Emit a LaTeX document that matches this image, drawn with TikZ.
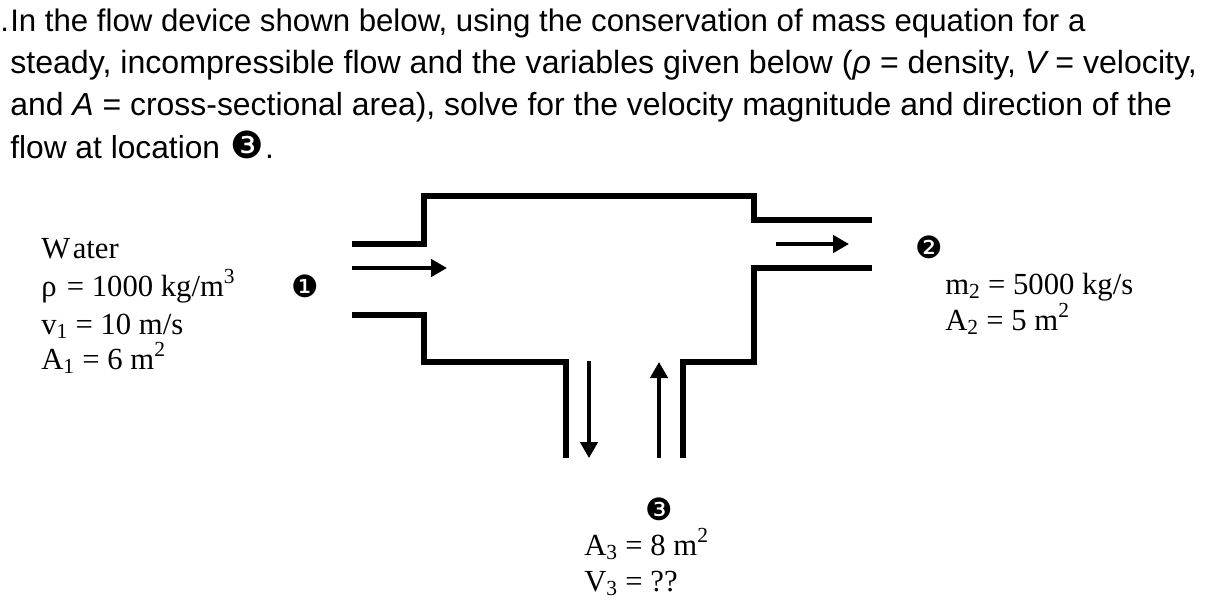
\documentclass[tikz,border=0pt]{standalone}
\usepackage{fontspec}
\setmainfont{Liberation Serif}
\newfontfamily\headfont{Liberation Sans}
\newfontfamily\dingfont{DejaVu Sans}
\usepackage{xcolor}
\definecolor{device-main}{HTML}{000000}
\usetikzlibrary{arrows.meta}
\newcommand{\headsize}[1]{\fontsize{#1}{28}\selectfont}
\tikzset{
    x=0.75pt, y=-0.75pt,
    headline/.style={anchor=base west, inner sep=0pt, font=\headfont\headsize{#1}},
    dataline/.style={anchor=base west, inner sep=0pt, font=\fontsize{23}{28}\selectfont},
    marker/.style={inner sep=0pt, font=\dingfont\fontsize{23}{28}\selectfont},
    wall/.style={line width=4.5pt, draw=device-main, miter limit=10},
    flowarrow/.style={line width=2.7pt, draw=device-main, -{Triangle[length=12pt,width=13pt]}}
}
\begin{document}
\begin{tikzpicture}

    % Background
    \useasboundingbox (0, 0) rectangle (1208, 612);

    % Question
    \node[headline=23.4] (lineone) at (0, 31.5) {.\hspace{1pt}In the flow device shown below, using the conservation of mass equation for a};
    \node[headline=24.1] (linetwo) at (10, 73.5) {steady, incompressible flow and the variables given below ({\itshape ρ} = density, {\itshape V} = velocity,};
    \node[headline=23.95] (linethree) at (10, 115.5) {and {\itshape A} = cross-sectional area), solve for the velocity magnitude and direction of the};
    \node[headline=23.8] (linefour) at (10, 158) {flow at location\hspace{1pt} {\dingfont\fontsize{28}{28}\selectfont ❸}\hspace{1pt}.};

    % Walls
    \draw[wall] (352, 244) -- (424, 244) -- (424, 196) -- (754, 196) -- (754, 220) -- (872, 220);
    \draw[wall] (352, 315) -- (424, 315) -- (424, 362) -- (566, 362) -- (566, 458);
    \draw[wall] (872, 268) -- (754, 268) -- (754, 362) -- (683, 362) -- (683, 458);

    % Flow arrows
    \coordinate (inletstart) at (352, 268);
    \coordinate (inletend) at (447, 268);
    \coordinate (outletstart) at (776, 244);
    \coordinate (outletend) at (849, 244);
    \coordinate (downstart) at (589, 361);
    \coordinate (downend) at (589, 458);
    \coordinate (upstart) at (659, 458);
    \coordinate (upend) at (659, 362);
    \draw[flowarrow] (inletstart) -- (inletend);
    \draw[flowarrow] (outletstart) -- (outletend);
    \draw[flowarrow] (downstart) -- (downend);
    \draw[flowarrow] (upstart) -- (upend);

    % Location markers
    \node[marker] (markerone) at (305, 286) {❶};
    \node[marker] (markertwo) at (929, 247) {❷};
    \node[marker] (markerthree) at (659, 509) {❸};

    % Inlet data
    \node[dataline] (water) at (41, 258) {W\hspace{2pt}ater};
    \node[dataline] (density) at (41, 296) {ρ\hspace{2pt} = 1000 kg/m\textsuperscript{3}};
    \node[dataline] (velocityone) at (41, 334) {v\textsubscript{1} = 10 m/s};
    \node[dataline] (areaone) at (41, 369) {A\textsubscript{1} = 6 m\textsuperscript{2}};

    % Outlet data
    \node[dataline] (massflow) at (945, 294) {m\textsubscript{2} = 5000 kg/s};
    \node[dataline] (areatwo) at (945, 330) {A\textsubscript{2} = 5 m\textsuperscript{2}};

    % Lower data
    \node[dataline] (areathree) at (584, 555) {A\textsubscript{3} = 8 m\textsuperscript{2}};
    \node[dataline] (velocitythree) at (584, 591) {V\textsubscript{3} = ??};

\end{tikzpicture}
\end{document}
